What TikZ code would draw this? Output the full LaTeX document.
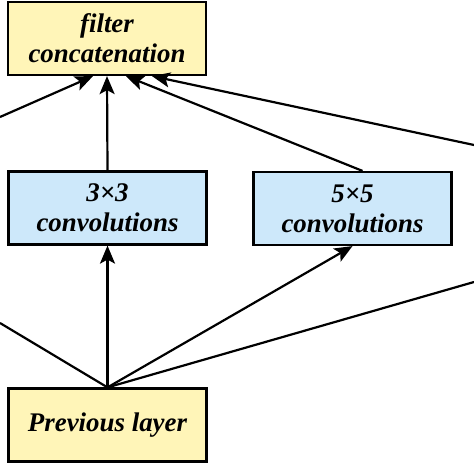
\documentclass[tikz,border=0pt]{standalone}
\usepackage{fontspec}
\setmainfont{Liberation Serif}
\usetikzlibrary{arrows.meta}
\definecolor{concatyellow}{HTML}{FFF5B8}
\definecolor{convblue}{HTML}{CDE8FA}
\begin{document}
\begin{tikzpicture}[x=1bp,y=-1bp,
  layerbox/.style={draw=black, line width=2.2bp, minimum width=198bp, minimum height=73bp, inner sep=0pt, align=center, font=\fontsize{27}{30}\selectfont\bfseries\itshape},
  link/.style={line width=2.2bp},
  flow/.style={link, -{Stealth[length=18bp,width=15bp,inset=4bp]}}]
\useasboundingbox (0,0) rectangle (474,474);
\clip (0,0) rectangle (474,474);

\node[layerbox, fill=concatyellow] (concat) at (107,38.5) {filter\\concatenation};
\node[layerbox, fill=convblue] (conv3) at (107.5,208) {3×3\\convolutions};
\node[layerbox, fill=convblue] (conv5) at (352.5,208.5) {5×5\\convolutions};
\node[layerbox, fill=concatyellow] (prev) at (107.5,425) {Previous layer};

% branches leaving the picture
\coordinate (conv1in) at (0,323);
\coordinate (poolin) at (474,282);
\coordinate (conv1out) at (0,117);
\coordinate (poolout) at (474,145);

\draw[link] (prev.north) -- (conv1in);
\draw[flow] (prev.north) -- (conv3.south);
\draw[flow] (prev.north) -- (conv5.south);
\draw[link] (prev.north) -- (poolin);

\draw[flow] (conv1out) -- ([xshift=-14bp]concat.south);
\draw[flow] (conv3.north) -- (concat.south);
\draw[flow] ([xshift=10bp]conv5.north) -- ([xshift=19bp]concat.south);
\draw[flow] (poolout) -- ([xshift=45bp]concat.south);

\end{tikzpicture}
\end{document}
